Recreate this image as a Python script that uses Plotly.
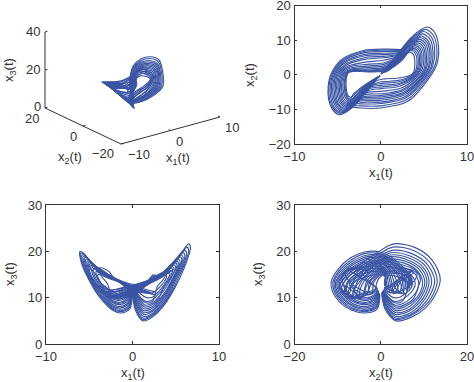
import plotly.graph_objects as go

# Traced laps of the attractor: right-lobe laps first, then left-lobe laps.
x1 = [
 0,.3,1.2,2.3,3.4,4.4,5.4,6.3,6.7,6.5,5.6,3.2,0,-2.4,-4,None,
 .02,.35,1.2,2.3,3.35,4.35,5.2,6.1,6.5,6.3,5.4,3.1,0,-2.4,-3.9,None,
 .05,.4,1.2,2.3,3.3,4.3,5.0,5.9,6.25,6.05,5.2,3,0,-2.3,-3.9,None,
 .07,.45,1.25,2.3,3.25,4.2,4.85,5.7,6.05,5.85,5,2.9,0,-2.3,-3.6,None,
 .1,.5,1.3,2.3,3.2,4.1,4.7,5.5,5.85,5.65,4.8,2.8,0,-2.4,-3.5,None,
 .12,.55,1.3,2.3,3.15,4,4.6,5.35,5.7,5.5,4.65,2.7,0,-2.3,-3.4,None,
 .15,.6,1.3,2.3,3.1,3.9,4.5,5.2,5.5,5.3,4.5,2.6,0,-2.2,-3.3,None,
 .18,.65,1.35,2.3,3.05,3.8,4.4,5.05,5.3,5.15,4.35,2.5,0,-2,-3.1,None,
 .2,.7,1.4,2.3,3,3.7,4.3,4.9,5.15,5,4.2,2.4,0,-1.9,-3,None,
 .25,.75,1.45,2.3,2.95,3.6,4.15,4.75,5,4.8,4.05,2.3,.05,-1.7,-2.8,None,
 .3,.8,1.5,2.3,2.9,3.5,4,4.6,4.8,4.6,3.9,2.2,.1,-1.5,-2.6,None,
 .35,.85,1.55,2.3,2.85,3.45,3.9,4.45,4.65,4.45,3.75,2.1,.1,-1.4,-2.5,None,
 .4,.9,1.6,2.3,2.8,3.4,3.8,4.3,4.5,4.3,3.6,2,.1,-1.2,-2.3,None,
 .45,.95,1.65,2.3,2.8,3.3,3.7,4.15,4.35,4.15,3.5,1.95,.15,-1,-2.2,None,
 .5,1,1.7,2.3,2.8,3.2,3.6,4,4.2,4,3.4,1.9,.2,-.9,-1.9,None,
 .6,1.1,1.8,2.4,2.8,3.1,3.4,3.8,3.95,3.8,3.3,1.9,.4,-.6,-1.5,None,
 -.05,-.3,-1.3,-2.3,-3.3,-4.3,-4.9,-5.6,-6.05,-6.1,-5.8,-4.6,-2,.5,3,None,
 -.07,-.35,-1.3,-2.3,-3.25,-4.2,-4.8,-5.5,-5.95,-6,-5.65,-4.5,-1.95,.45,2.9,None,
 -.1,-.4,-1.3,-2.3,-3.2,-4.1,-4.7,-5.4,-5.8,-5.85,-5.5,-4.4,-1.9,.4,2.8,None,
 -.12,-.45,-1.35,-2.3,-3.15,-4,-4.6,-5.25,-5.65,-5.7,-5.35,-4.3,-1.85,.35,2.75,None,
 -.15,-.5,-1.4,-2.3,-3.1,-3.9,-4.5,-5.1,-5.5,-5.55,-5.2,-4.2,-1.8,.3,2.7,None,
 -.17,-.55,-1.45,-2.3,-3.05,-3.85,-4.4,-5,-5.35,-5.4,-5.05,-4.05,-1.75,.3,2.65,None,
 -.2,-.6,-1.5,-2.3,-3,-3.8,-4.3,-4.9,-5.2,-5.25,-4.9,-3.9,-1.7,.3,2.6,None,
 -.22,-.65,-1.5,-2.3,-3,-3.7,-4.2,-4.75,-5.05,-5.1,-4.75,-3.8,-1.65,.3,2.5,None,
 -.25,-.7,-1.5,-2.3,-3,-3.6,-4.1,-4.6,-4.9,-4.95,-4.6,-3.7,-1.6,.3,2.4,None,
 -.28,-.75,-1.55,-2.3,-2.95,-3.55,-4,-4.5,-4.75,-4.8,-4.45,-3.6,-1.55,.35,2.35,None,
 -.3,-.8,-1.6,-2.3,-2.9,-3.5,-3.9,-4.4,-4.6,-4.65,-4.3,-3.5,-1.5,.4,2.3,None,
 -.33,-.85,-1.6,-2.3,-2.85,-3.4,-3.8,-4.25,-4.5,-4.5,-4.15,-3.35,-1.45,.4,2.25,None,
 -.35,-.9,-1.6,-2.3,-2.8,-3.3,-3.7,-4.1,-4.35,-4.35,-4,-3.2,-1.4,.4,2.2,None,
 -.38,-.95,-1.65,-2.3,-2.75,-3.25,-3.6,-4,-4.2,-4.2,-3.9,-3.1,-1.35,.45,2.1,None,
 -.4,-1,-1.7,-2.3,-2.7,-3.2,-3.5,-3.9,-4.1,-4.1,-3.8,-3,-1.3,.5,2,None,
 -.5,-1.1,-1.8,-2.4,-2.8,-3.2,-3.5,-3.85,-4,-4,-3.7,-2.8,-1.2,.6,1.8,
]
x2 = [
 .2,1,3.5,7.1,10.4,12.6,13.8,12,8,3,-1,-7.6,-9.6,-9.6,-9,None,
 .25,1.1,3.4,6.9,10,12.1,13.1,11.4,7.6,2.8,-1,-7.1,-9,-9,-8.6,None,
 .3,1.2,3.4,6.8,9.6,11.6,12.5,10.8,7.2,2.7,-1,-6.6,-8.3,-8.4,-8,None,
 .35,1.25,3.4,6.6,9.2,11,11.8,10.3,6.8,2.4,-1.1,-6.2,-7.9,-8,-9.4,None,
 .4,1.3,3.4,6.4,8.9,10.5,11.2,9.8,6.4,2.2,-1.2,-5.8,-7.4,-7.6,-9.2,None,
 .45,1.4,3.4,6.2,8.5,10,10.7,9.4,6.1,2,-1.3,-5.4,-6.9,-7.2,-9,None,
 .5,1.5,3.4,6,8.2,9.6,10.2,9,5.9,1.8,-1.3,-5.1,-6.4,-6.8,-8.9,None,
 .5,1.55,3.3,5.7,7.8,9.2,9.7,8.6,5.6,1.7,-1.2,-4.7,-6,-6.4,-8.5,None,
 .5,1.6,3.4,5.7,7.6,8.8,9.2,8.2,5.3,1.6,-1.2,-4.4,-5.5,-5.8,-8.2,None,
 .55,1.6,3.3,5.3,7.1,8.4,8.8,7.8,5,1.5,-1,-3.9,-4.8,-5.2,-7.8,None,
 .6,1.7,3.2,5,6.6,7.9,8.4,7.4,4.8,1.4,-.9,-3.3,-4,-4.6,-7.2,None,
 .65,1.7,3.1,4.8,6.3,7.5,8,7.1,4.6,1.25,-.85,-2.9,-3.5,-4.1,-6.9,None,
 .7,1.7,3.1,4.6,6,7.1,7.6,6.8,4.4,1.1,-.8,-2.6,-3,-3.6,-6.4,None,
 .75,1.7,3,4.4,5.7,6.9,7.3,6.5,4.2,1,-.65,-2.1,-2.5,-3.1,-6,None,
 .8,1.6,2.9,4.2,5.4,6.6,7,6.2,4,.9,-.5,-1.7,-2,-2.8,-5.6,None,
 .8,1.6,2.8,4,5.2,6.2,6.5,5.8,3.6,.7,-.3,-1,-1.2,-1.9,-4.5,None,
 -.2,-.8,-3.5,-6.7,-9.5,-11.2,-11.5,-10,-7,-3.5,0,4.3,7,7.4,7.2,None,
 -.25,-.9,-3.45,-6.5,-9.2,-10.8,-11.1,-9.7,-6.8,-3.2,.1,4.1,6.7,7.1,7,None,
 -.3,-1,-3.4,-6.4,-9,-10.5,-10.8,-9.4,-6.5,-3,.3,3.9,6.4,6.7,6.7,None,
 -.35,-1.1,-3.4,-6.2,-8.7,-10.2,-10.5,-9.1,-6.3,-2.8,.35,3.6,5.9,6.2,6.4,None,
 -.4,-1.2,-3.4,-6.1,-8.5,-9.9,-10.2,-8.9,-6.1,-2.7,.4,3.4,5.5,5.8,6.2,None,
 -.45,-1.3,-3.4,-6,-8.2,-9.6,-9.9,-8.6,-5.9,-2.6,.45,3.1,5,5.3,6,None,
 -.5,-1.4,-3.4,-5.9,-8,-9.3,-9.6,-8.4,-5.7,-2.5,.5,2.9,4.5,4.9,5.8,None,
 -.5,-1.45,-3.3,-5.7,-7.7,-9,-9.3,-8.1,-5.5,-2.4,.5,2.5,3.7,4.2,5.6,None,
 -.5,-1.5,-3.3,-5.6,-7.5,-8.7,-9,-7.9,-5.3,-2.3,.5,2.2,3,3.4,5.4,None,
 -.55,-1.55,-3.2,-5.3,-7.2,-8.3,-8.6,-7.6,-5.1,-2.1,.45,1.9,2.5,3,5.2,None,
 -.6,-1.6,-3.2,-5.1,-6.8,-8,-8.3,-7.3,-4.9,-2,.4,1.6,2.1,2.6,5,None,
 -.65,-1.6,-3,-4.7,-6.2,-7.6,-7.9,-7,-4.7,-1.85,.4,1.4,1.7,2.2,4.8,None,
 -.7,-1.7,-3,-4.5,-5.8,-7,-7.6,-6.7,-4.5,-1.7,.4,1.2,1.3,1.9,4.6,None,
 -.75,-1.7,-2.9,-4.3,-5.6,-6.9,-7.3,-6.4,-4.3,-1.55,.5,1.1,1.1,1.7,4.4,None,
 -.8,-1.8,-2.9,-3.8,-4.6,-5.6,-7,-6.2,-4.1,-1.4,.6,1,.9,1.5,4.2,None,
 -.85,-1.75,-2.9,-4,-5,-6.1,-6.5,-5.8,-3.9,-1.2,.8,1.1,.85,1.2,3.7,
]
x3 = [
 11,7.5,5,5.8,7.8,10.5,14,18,20.8,21.6,19.6,15,12.6,11.7,12.5,None,
 11.1,7.8,5.3,6.1,8,10.6,13.9,17.6,20.2,20.9,19,14.8,12.5,11.2,11.6,None,
 11.2,8,5.6,6.3,8.2,10.8,13.8,17.2,19.5,20.2,18.5,14.5,12.2,10.8,12.2,None,
 11.2,8.3,6,6.6,8.5,10.9,13.7,16.9,19,19.7,18,14.3,12.7,11.6,11,None,
 11.3,8.5,6.4,7,8.8,11,13.6,16.6,18.6,19.2,17.6,14.2,11.8,10.5,11.8,None,
 11.3,8.8,6.8,7.3,9,11.1,13.5,16.3,18.2,18.8,17.2,14,12.4,11,10.8,None,
 11.4,9,7.2,7.7,9.3,11.2,13.4,16,17.8,18.3,16.9,13.9,11.3,10.3,11.4,None,
 11.4,9.3,7.6,8.1,9.5,11.3,13.3,15.7,17.4,17.9,16.5,13.7,12,10.4,10.3,None,
 11.5,9.6,8,8.5,9.8,12.6,14,15.8,17,17.5,16.2,13.6,11.1,10,10.9,None,
 11.5,9.8,8.4,8.8,10,11.5,13.1,15.3,16.6,17.1,15.9,13.5,11.7,10,10,None,
 11.6,10,8.9,9.2,12.5,13.8,15.2,15.9,16.3,16.7,15.6,13.4,10.8,9.8,10.4,None,
 11.7,10.2,9.2,9.5,10.5,11.7,13,14.8,16,16.4,15.3,13.3,12.1,10.2,10,None,
 11.8,12,12.8,13.6,14.4,15,15.4,15.7,15.7,16,15,13.2,11.2,10.4,10.3,None,
 11.9,10.8,10,10.1,10.9,11.9,12.9,14.3,15.3,15.6,14.8,13.2,12.5,11,10.5,None,
 12,12.4,13,14,14.8,15.2,15.5,15.5,15.2,15.3,14.6,13.1,11,10.7,10.6,None,
 12.2,11.4,11,11.1,11.7,12.2,12.8,13.8,14.6,14.9,14.3,13,11.8,11.2,11,None,
 10.5,7.6,6.7,7.3,9,11.4,13.4,16,18.6,19.9,19.8,17.4,14.2,12.8,14.2,None,
 10.6,7.9,7,7.5,9.2,11.4,13.3,15.8,18.2,19.6,19.4,17.1,14.1,12.4,14.8,None,
 10.8,8.1,7.2,7.7,9.4,11.5,13.3,15.6,17.9,19.2,19.1,16.9,14,12,14.6,None,
 10.9,8.3,7.5,8,9.6,11.5,13.2,15.4,17.6,18.9,18.8,16.7,13.9,11.6,14.9,None,
 11,8.6,7.8,8.2,9.8,11.6,13.2,15.2,17.3,18.6,18.5,16.5,13.8,12.4,11.2,None,
 11.1,8.9,8.1,8.5,10,11.7,13.2,15,17,18.3,18.1,16.2,13.7,11.2,15,None,
 11.2,9.2,8.5,8.9,10.2,11.8,13.2,14.9,16.8,17.9,17.8,16,13.7,11.8,10.6,None,
 11.3,9.5,8.8,9.1,10.4,11.9,13.1,14.7,16.5,17.6,17.5,15.8,13.6,11,15,None,
 11.4,9.8,9,9.4,10.6,13,14.6,15.8,16.3,17.3,17.2,15.6,13.6,12,10.8,None,
 11.5,10,9.4,9.7,10.8,12.1,13,14.5,16,17,16.8,15.4,13.5,10.8,15,None,
 11.6,10.3,9.7,10,13,14.4,15.6,16.2,16.4,16.8,16.5,15.2,13.5,11.4,10.9,None,
 11.7,10.6,10,10.3,11.2,12.2,12.9,14.2,15.5,16.3,16.2,15,13.4,11,14.7,None,
 11.8,12.6,13.4,14.2,15,15.7,16.2,16.4,16.4,16.3,15.9,14.9,13.4,11.8,11,None,
 11.9,11,10.6,10.8,11.5,12.3,12.9,13.9,15,15.7,15.6,14.7,13.3,11.2,14.4,None,
 12,12.8,13.6,14.6,15.6,16.2,16.4,16.4,16,15.6,15.3,14.5,13.3,12,11.2,None,
 12.2,11.6,11.3,11.4,11.9,12.5,12.9,13.6,14.4,15,14.9,14.2,13.2,12.2,13.8,
]

x1_ticks = [-10, 0, 10]
x2_ticks = [-20, 0, 20]
x3_ticks_3d = [0, 20, 40]
x3_ticks = [0, 10, 20, 30]
x2_ticks_2d = [-20, -10, 0, 10, 20]

BLUE = "#3A55A4"
INK = "#333333"
FONT = "Liberation Sans"
W, H = 474, 382


def view(a, b, c):
    """Oblique view used by the 3-D panel."""
    return (121 + (a + 10) * 4.95 - (b + 20) * 1.9,
            144 - (a + 10) * 1.35 - (b + 20) * 0.9 - c * 1.9)


def project(a, b, c):
    u, v = [], []
    for p, q, r in zip(a, b, c):
        if p is None:
            u.append(None); v.append(None)
        else:
            s, t = view(p, q, r)
            u.append(s); v.append(t)
    return u, v


fig = go.Figure()
u, v = project(x1, x2, x3)
curve = dict(mode="lines", line=dict(color=BLUE, width=1.15, shape="spline", smoothing=0.9),
             hoverinfo="skip", showlegend=False)

fig.add_trace(go.Scatter(x=u, y=v, xaxis="x", yaxis="y", **curve))
fig.add_trace(go.Scatter(x=x1, y=x2, xaxis="x2", yaxis="y2", **curve))
fig.add_trace(go.Scatter(x=x1, y=x3, xaxis="x3", yaxis="y3", **curve))
fig.add_trace(go.Scatter(x=x2, y=x3, xaxis="x4", yaxis="y4", **curve))

# 3-D axes, through the same view
ax_u, ax_v = [], []
for seg in [((-10, 20, 40), (-10, 20, 0)), ((-10, 20, 0), (-10, -20, 0)), ((-10, -20, 0), (10, -20, 0))]:
    for p in seg:
        s, t = view(*p)
        ax_u.append(s); ax_v.append(t)
    ax_u.append(None); ax_v.append(None)
for t3 in x3_ticks_3d:
    for p in [(-10, 20, t3), (-9.5, 20, t3)]:
        s, t = view(*p)
        ax_u.append(s); ax_v.append(t)
    ax_u.append(None); ax_v.append(None)
for t2 in x2_ticks[:-1]:
    for p in [(-10, t2, 0), (-9.5, t2, 0)]:
        s, t = view(*p)
        ax_u.append(s); ax_v.append(t)
    ax_u.append(None); ax_v.append(None)
for t1 in x1_ticks[1:]:
    for p in [(t1, -20, 0), (t1, -19, 0)]:
        s, t = view(*p)
        ax_u.append(s); ax_v.append(t)
    ax_u.append(None); ax_v.append(None)
fig.add_trace(go.Scatter(x=ax_u, y=ax_v, xaxis="x", yaxis="y", mode="lines",
                         line=dict(color=INK, width=1), hoverinfo="skip", showlegend=False))


def cart(l, r, t, b, xr, yr, xt, yt):
    common = dict(showgrid=False, zeroline=False, showline=True, mirror="ticks", linecolor=INK,
                  linewidth=1.3, ticks="inside", ticklen=2.5, tickcolor=INK,
                  tickfont=dict(family=FONT, size=13, color=INK), automargin=False,
                  ticklabeloverflow="allow")
    xa = dict(domain=[l / W, r / W], range=xr, tickvals=xt, **common)
    ya = dict(domain=[1 - b / H, 1 - t / H], range=yr, tickvals=yt, **common)
    return xa, ya


xa2, ya2 = cart(294.5, 467, 5.5, 144, [-10, 10], [-20, 20], x1_ticks, x2_ticks_2d)
xa3, ya3 = cart(46, 219, 205, 344, [-10, 10], [0, 30], x1_ticks, x3_ticks)
xa4, ya4 = cart(294.5, 467, 205, 344, [-20, 20], [0, 30], x2_ticks, x3_ticks)

hidden = dict(visible=False, domain=[0, 1], fixedrange=True)
fig.update_layout(
    width=W, height=H, autosize=False, margin=dict(l=0, r=0, t=0, b=0, pad=0),
    paper_bgcolor="white", plot_bgcolor="rgba(0,0,0,0)",
    xaxis=dict(range=[0, W], **hidden), yaxis=dict(range=[H, 0], **hidden),
    xaxis2=dict(anchor="y2", **xa2), yaxis2=dict(anchor="x2", **ya2),
    xaxis3=dict(anchor="y3", **xa3), yaxis3=dict(anchor="x3", **ya3),
    xaxis4=dict(anchor="y4", **xa4), yaxis4=dict(anchor="x4", **ya4),
)

labels = [
    ("40", 33, 31), ("20", 33, 69), ("0", 37, 106),
    ("20", 32, 118), ("0", 73, 136), ("\u221220", 103, 153),
    ("\u221210", 139, 154), ("0", 179, 141), ("10", 232, 127),
    ("x<sub>2</sub>(t)", 70, 157), ("x<sub>1</sub>(t)", 178, 158),
    ("x<sub>1</sub>(t)", 381, 173), ("x<sub>1</sub>(t)", 133, 373), ("x<sub>2</sub>(t)", 381, 373),
]
for text, ax, ay in labels:
    fig.add_annotation(text=text, x=ax, y=ay, xref="x", yref="y", showarrow=False,
                       font=dict(family=FONT, size=13, color=INK))
for text, ax, ay in [("x<sub>3</sub>(t)", 9, 70), ("x<sub>2</sub>(t)", 250, 75),
                     ("x<sub>3</sub>(t)", 10, 274), ("x<sub>3</sub>(t)", 258, 274)]:
    fig.add_annotation(text=text, x=ax, y=ay, xref="x", yref="y", showarrow=False, textangle=-90,
                       font=dict(family=FONT, size=13, color=INK))

fig.write_html("out.html", config=dict(displayModeBar=False),
               post_script="document.body.style.margin='0';document.documentElement.style.overflow='hidden';")
